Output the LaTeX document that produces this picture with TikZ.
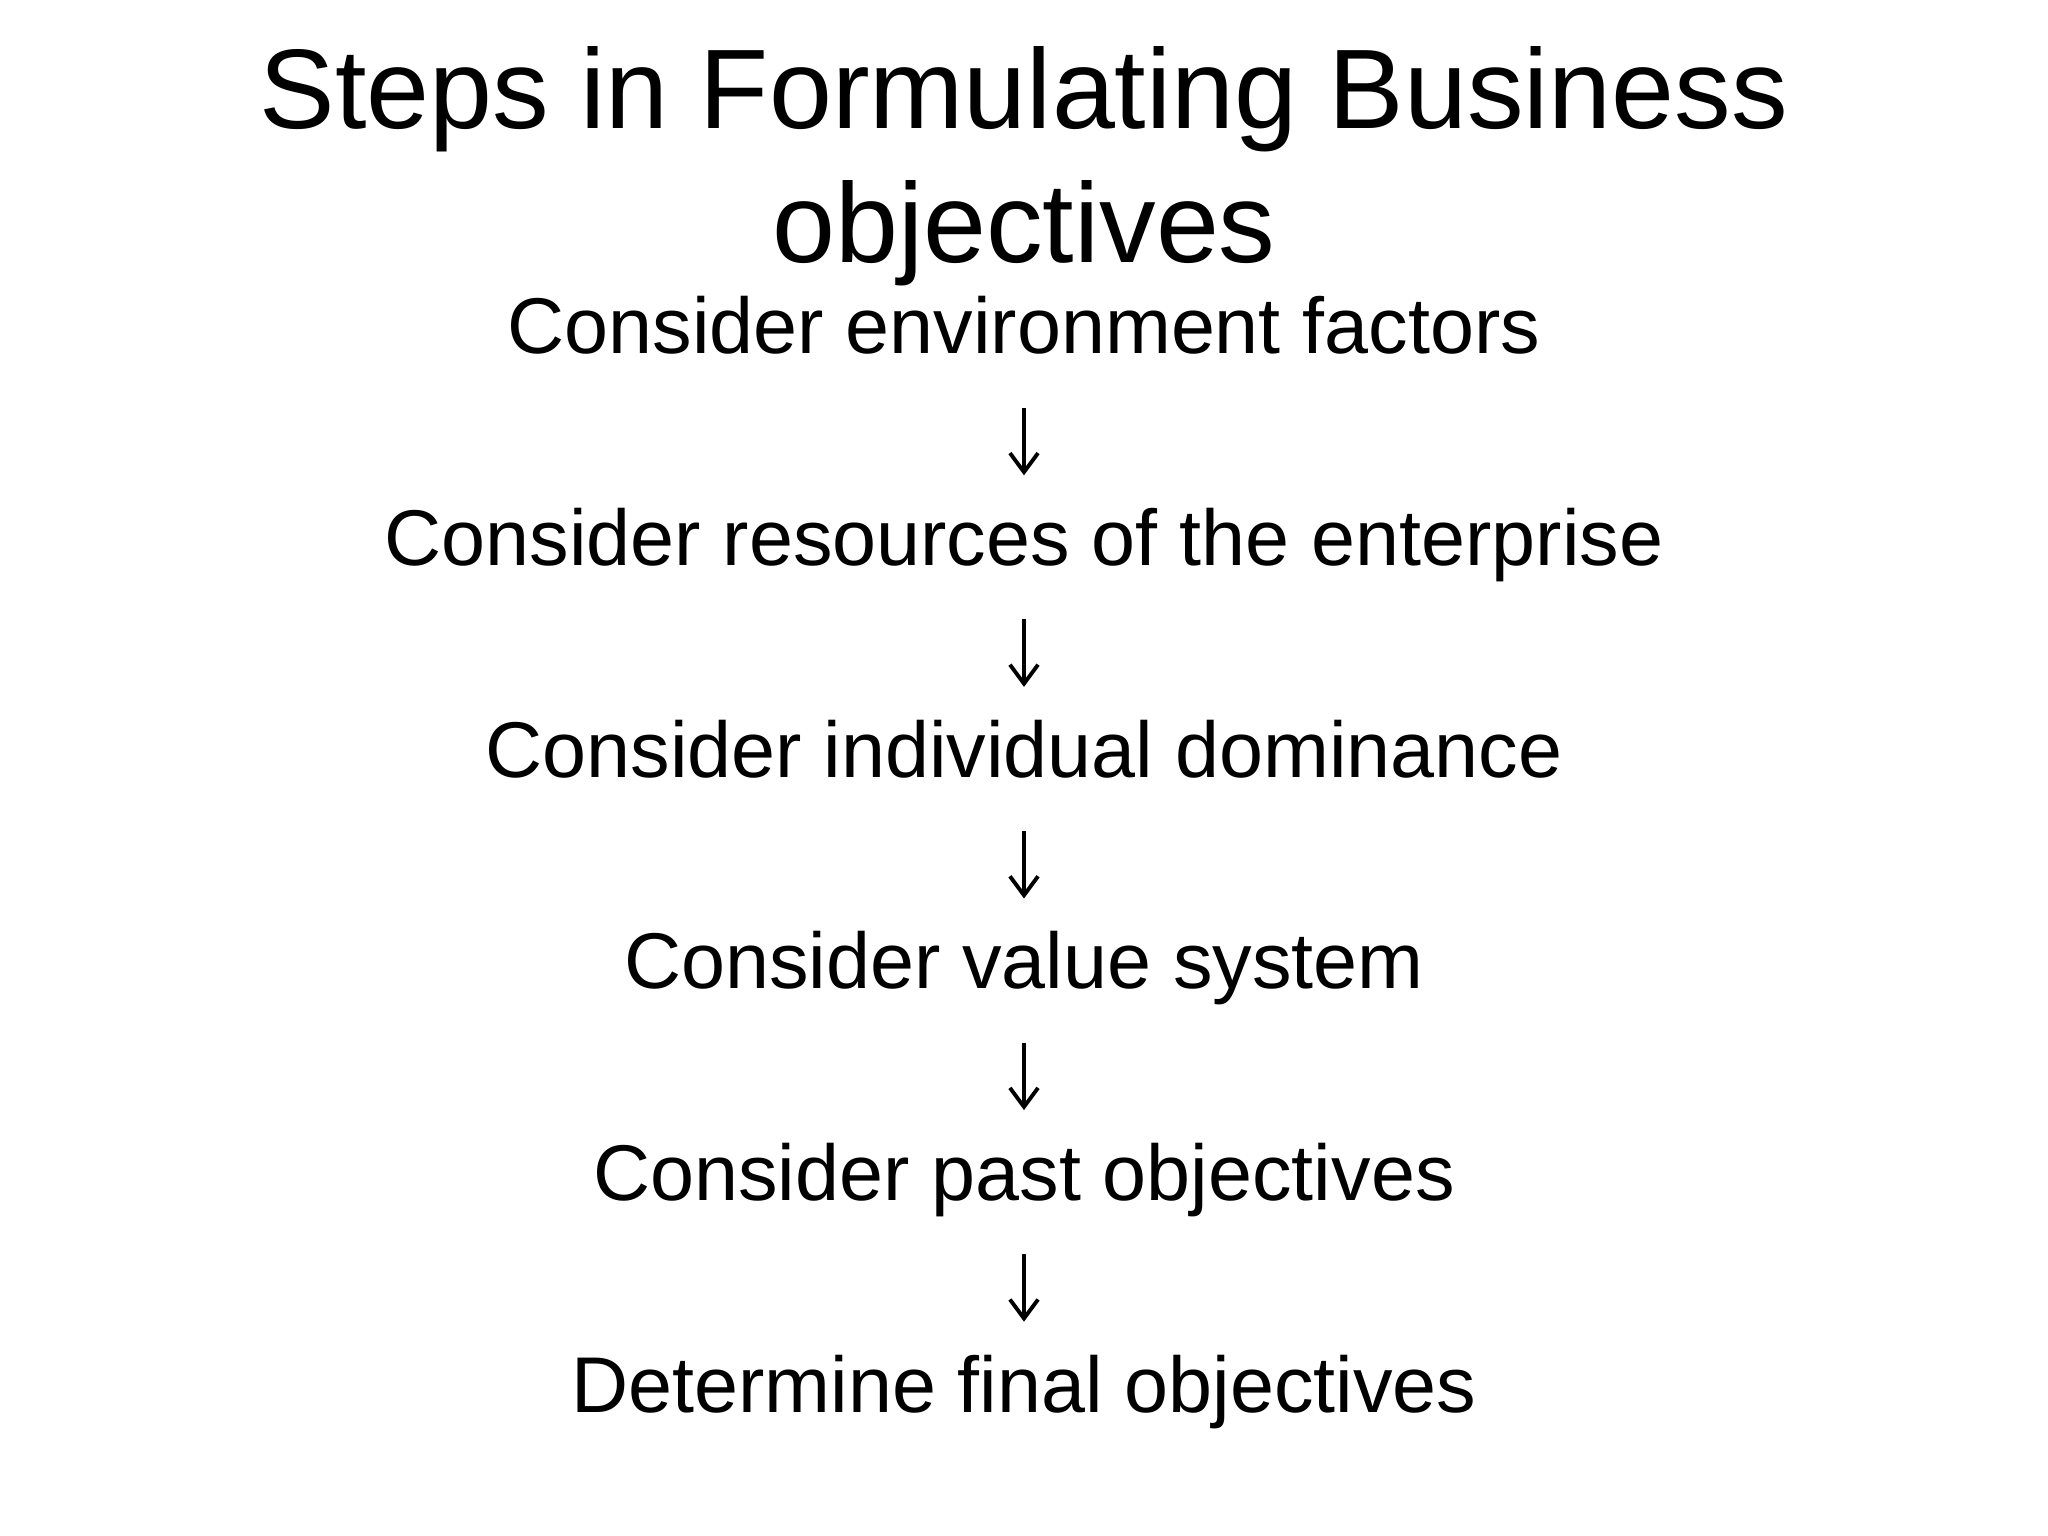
\documentclass[tikz,border=0pt]{standalone}
\usepackage{fontspec}
\setmainfont{Liberation Sans}
\usepackage{tikz}
\usetikzlibrary{arrows.meta}
\tikzset{>={Straight Barb[length=5.4pt,width=8pt]}}
\tikzset{
    stepnode/.style={font=\fontsize{22.5}{27}\selectfont, inner sep=0pt,
        text height=0.567cm, text depth=0pt, anchor=base},
    steparrow/.style={->, line width=1.1pt, shorten <=0.53cm, shorten >=0.329cm}
}

\begin{document}
\begin{tikzpicture}
            \useasboundingbox (0,0) rectangle (20.48,-15.36);
            \node[font=\fontsize{32.2}{38.4}\selectfont, align=center, anchor=base, inner sep=0pt] (title) at (10.24,-2.63) {Steps in Formulating Business\\objectives};
            \node[stepnode] (env) at (10.24,-3.54) {Consider environment factors};
            \node[stepnode] (res) at (10.24,-5.656) {Consider resources of the enterprise};
            \node[stepnode] (dom) at (10.24,-7.772) {Consider individual dominance};
            \node[stepnode] (val) at (10.24,-9.888) {Consider value system};
            \node[stepnode] (past) at (10.24,-12.004) {Consider past objectives};
            \node[stepnode] (final) at (10.24,-14.12) {Determine final objectives};
            \draw[steparrow] (env) -- (res);
            \draw[steparrow] (res) -- (dom);
            \draw[steparrow] (dom) -- (val);
            \draw[steparrow] (val) -- (past);
            \draw[steparrow] (past) -- (final);
        \end{tikzpicture}
\end{document}
